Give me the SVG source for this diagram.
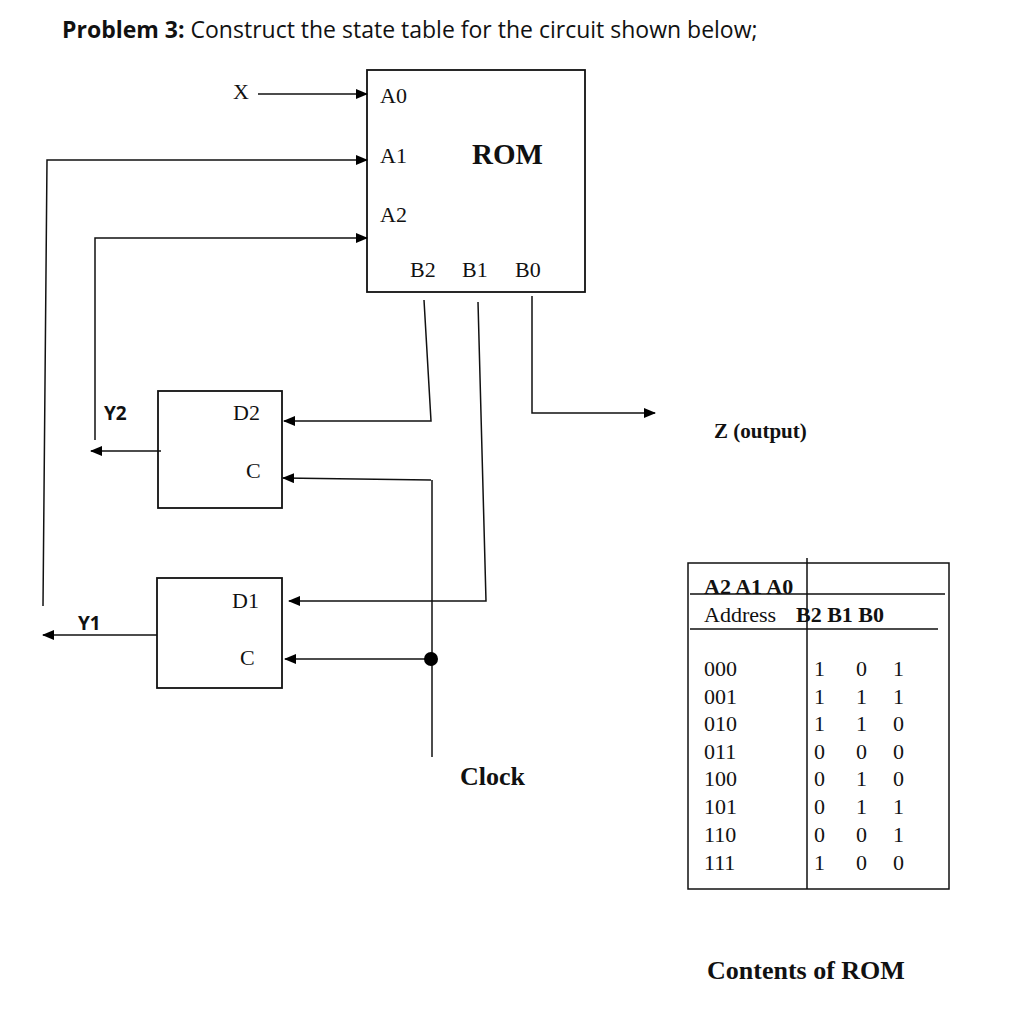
<svg xmlns="http://www.w3.org/2000/svg" width="1015" height="1024" viewBox="0 0 1015 1024">
<defs>
<marker id="ah" markerWidth="12" markerHeight="10" refX="11" refY="5" orient="auto" markerUnits="userSpaceOnUse"><path d="M0,0 L12,5 L0,10 Z" fill="#000"/></marker>
<style>
.s{font-family:"Liberation Serif",serif;font-size:22px;fill:#111}
.b{font-family:"Liberation Serif",serif;font-weight:bold;fill:#111}
.k{font-family:"Open Sans","Liberation Sans",sans-serif;fill:#111}
.w{stroke:#111;stroke-width:1.5;fill:none}
.bx{stroke:#111;stroke-width:1.8;fill:#fff}
</style>
</defs>
<rect width="1015" height="1024" fill="#fff"/>
<text x="62" y="38" class="k" font-size="23"><tspan font-weight="bold">Problem 3:</tspan> Construct the state table for the circuit shown below;</text>
<g id="rom"><rect x="367" y="70" width="218" height="222" class="bx"/>
<text x="380" y="103" class="s">A0</text><text x="380" y="163" class="s">A1</text><text x="380" y="222" class="s">A2</text>
<text x="472" y="164" class="b" font-size="29">ROM</text>
<text x="410" y="277" class="s">B2</text><text x="462" y="277" class="s">B1</text><text x="515" y="277" class="s">B0</text></g>
<g id="ff2"><rect x="158" y="391" width="124" height="117" class="bx"/><text x="233" y="420" class="s">D2</text><text x="246" y="478" class="s">C</text></g>
<g id="ff1"><rect x="157" y="578" width="125" height="110" class="bx"/><text x="232" y="608" class="s">D1</text><text x="240" y="665" class="s">C</text></g>
<g id="connectors" class="w">
<path d="M258,94 H367" marker-end="url(#ah)"/>
<path d="M43,606 L47,160 H367" marker-end="url(#ah)"/>
<path d="M95,440 V238 H367" marker-end="url(#ah)"/>
<path d="M424,300 L431,421 H284" marker-end="url(#ah)"/>
<path d="M478,302 L486,601 H289" marker-end="url(#ah)"/>
<path d="M532,296 V413 H655" marker-end="url(#ah)"/>
<path d="M431,480 L283,478" marker-end="url(#ah)"/>
<path d="M432,480 V757"/>
<path d="M431,659 H285" marker-end="url(#ah)"/>
<path d="M161,451 H91" marker-end="url(#ah)"/>
<path d="M157,635 H43" marker-end="url(#ah)"/>
</g>
<circle cx="431" cy="659" r="7" fill="#000"/>
<text x="233" y="99" class="s">X</text>
<text x="104" y="420" class="k" font-size="19" font-weight="bold">Y2</text>
<text x="78" y="630" class="k" font-size="19" font-weight="bold">Y1</text>
<text x="714" y="438" class="b" font-size="21">Z (output)</text>
<text x="460" y="785" class="b" font-size="26">Clock</text>
<g id="table">
<rect x="688" y="563" width="261" height="326" class="w"/>
<path d="M807,558 V889 M690,594 H945 M690,629 H938" class="w"/>
<text x="704" y="594" class="b" font-size="22">A2 A1 A0</text>
<text x="704" y="622" class="s">Address</text><text x="796" y="622" class="b" font-size="22">B2 B1 B0</text>
<g class="s">
<text x="704" y="676">000</text><text x="704" y="704">001</text><text x="704" y="731">010</text><text x="704" y="759">011</text><text x="704" y="786">100</text><text x="704" y="814">101</text><text x="704" y="842">110</text><text x="704" y="870">111</text>
<text x="814" y="676">1</text><text x="814" y="704">1</text><text x="814" y="731">1</text><text x="814" y="759">0</text><text x="814" y="786">0</text><text x="814" y="814">0</text><text x="814" y="842">0</text><text x="814" y="870">1</text>
<text x="856" y="676">0</text><text x="856" y="704">1</text><text x="856" y="731">1</text><text x="856" y="759">0</text><text x="856" y="786">1</text><text x="856" y="814">1</text><text x="856" y="842">0</text><text x="856" y="870">0</text>
<text x="893" y="676">1</text><text x="893" y="704">1</text><text x="893" y="731">0</text><text x="893" y="759">0</text><text x="893" y="786">0</text><text x="893" y="814">1</text><text x="893" y="842">1</text><text x="893" y="870">0</text>
</g></g>
<text x="707" y="979" class="b" font-size="26">Contents of ROM</text>
</svg>
